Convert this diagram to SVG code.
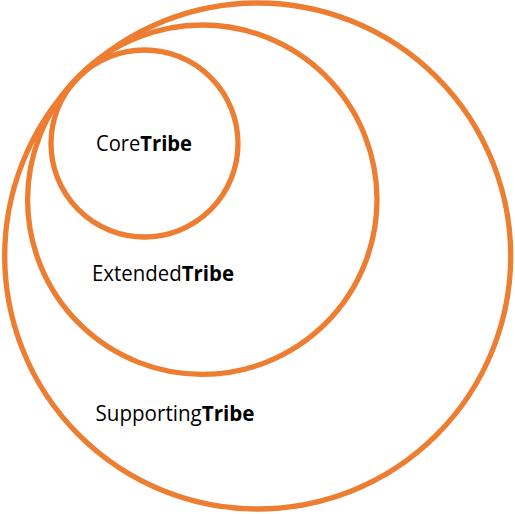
<svg xmlns="http://www.w3.org/2000/svg" width="515" height="514" viewBox="0 0 515 514">
<style>
.ring{fill:none;stroke:#ED7D31;stroke-width:5.3}
.lbl{font-family:"Open Sans","Liberation Sans",sans-serif;font-size:21px;fill:#000}
.b{font-weight:bold}
</style>
<rect width="515" height="514" fill="#fff"/>
<g id="supporting">
<circle class="ring" cx="257.7" cy="256" r="253"/>
<text class="lbl" x="95.5" y="421" textLength="159" lengthAdjust="spacingAndGlyphs">Supporting<tspan class="b">Tribe</tspan></text>
</g>
<g id="extended">
<circle class="ring" cx="202.3" cy="199.7" r="174.7"/>
<text class="lbl" x="92" y="280.5" textLength="142" lengthAdjust="spacingAndGlyphs">Extended<tspan class="b">Tribe</tspan></text>
</g>
<g id="core">
<circle class="ring" cx="144.5" cy="143.5" r="93.5"/>
<text class="lbl" x="96" y="150.5" textLength="96" lengthAdjust="spacingAndGlyphs">Core<tspan class="b">Tribe</tspan></text>
</g>
<g id="connectors"></g>
</svg>
